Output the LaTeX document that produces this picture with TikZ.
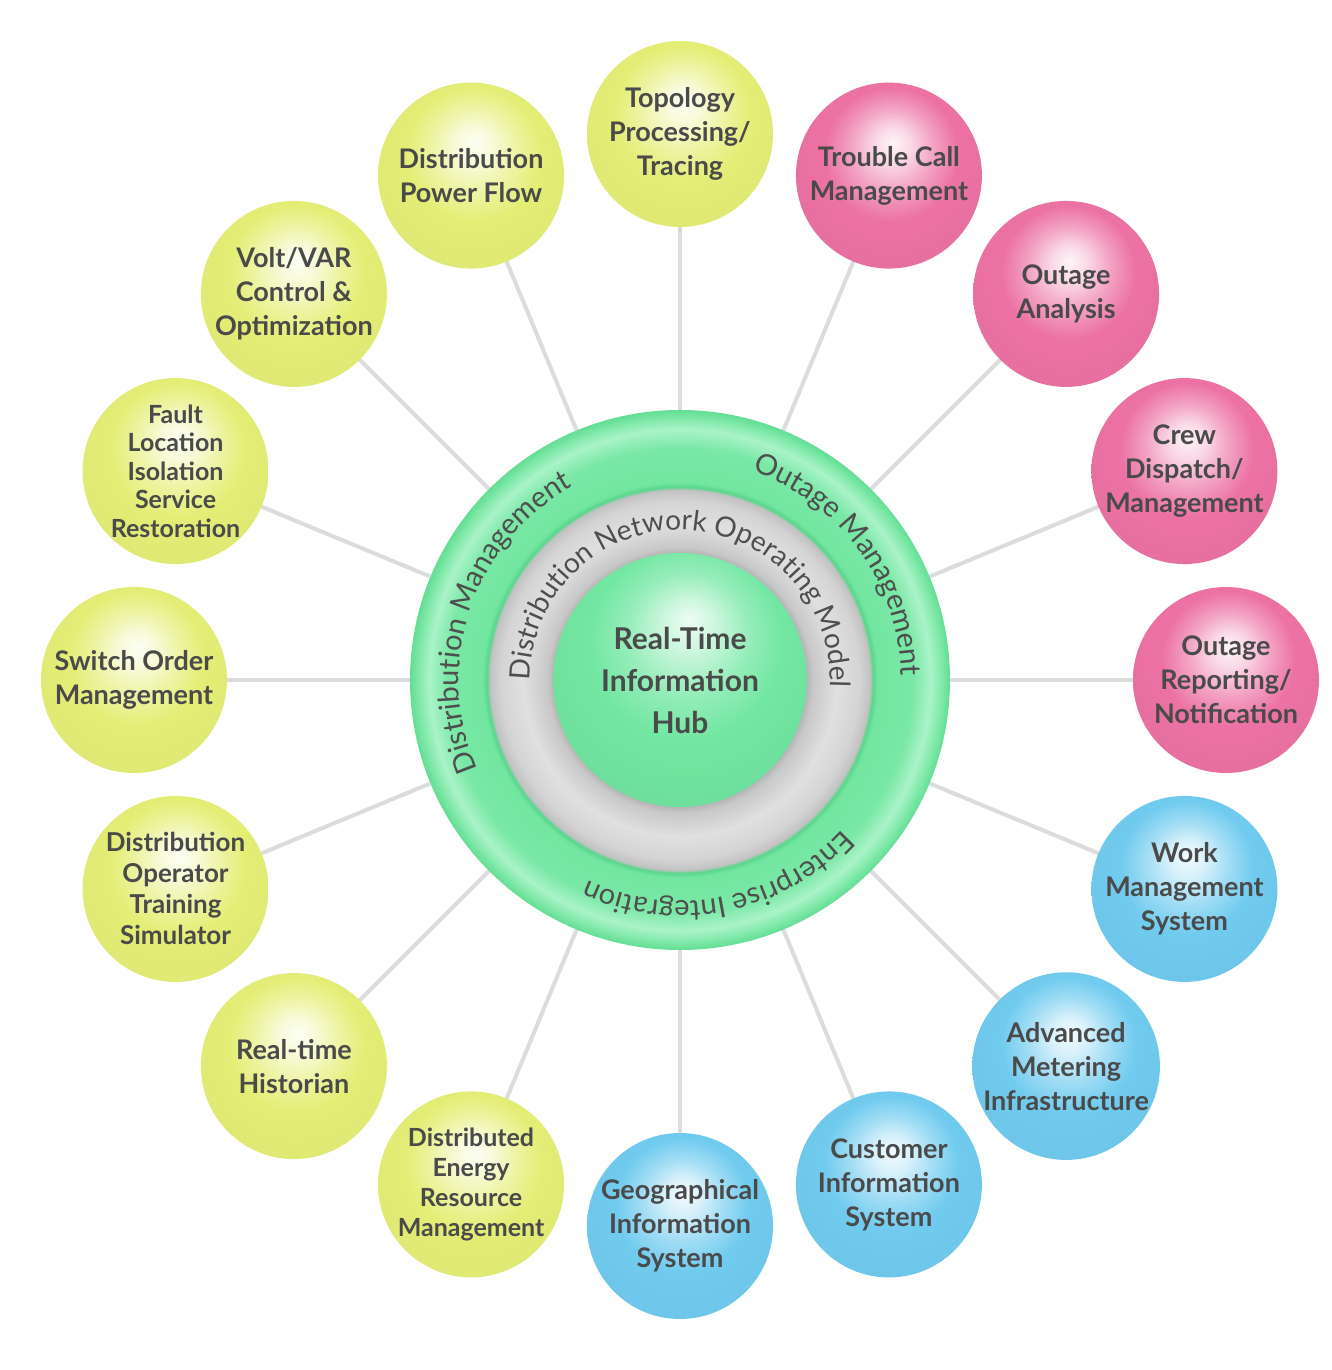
\documentclass[tikz,border=0pt]{standalone}
\usepackage{fontspec}
\setmainfont{Lato}
\usetikzlibrary{decorations.text,backgrounds}
\definecolor{ylw}{HTML}{E4EE76}
\definecolor{pnk}{HTML}{EC72A3}
\definecolor{blu}{HTML}{70CBEF}
\definecolor{hubg}{HTML}{72E7A2}
\definecolor{labtxt}{HTML}{4A4A4A}
\definecolor{ringtxt}{HTML}{4E4E4E}
\definecolor{conncol}{HTML}{DCDCDC}
\definecolor{gA}{HTML}{B4B4B4}
\definecolor{gB}{HTML}{C8C8C8}
\definecolor{gC}{HTML}{E0E0E0}
\definecolor{gD}{HTML}{D4D4D4}
\definecolor{gE}{HTML}{C2C2C2}
\definecolor{grA}{HTML}{58D68B}
\definecolor{grB}{HTML}{72E6A1}
\definecolor{grC}{HTML}{7AE8A6}
\definecolor{grD}{HTML}{AAF3C8}
\definecolor{grE}{HTML}{82E9AB}
\definecolor{grF}{HTML}{62DE93}
\newcommand\mkball[2]{\pgfdeclareradialshading{#1}{\pgfpoint{1bp}{9bp}}{color(0bp)=(#2!8!white); color(5bp)=(#2!28!white); color(11bp)=(#2!65!white); color(18bp)=(#2); color(32bp)=(#2!97!black); color(50bp)=(#2!95!black)}}
\mkball{ballY}{ylw}
\mkball{ballP}{pnk}
\mkball{ballB}{blu}
\pgfdeclareradialshading{hubsh}{\pgfpoint{2bp}{12bp}}{color(0bp)=(hubg!12!white); color(5bp)=(hubg!35!white); color(12bp)=(hubg!75!white); color(19bp)=(hubg); color(34bp)=(hubg!95!black); color(50bp)=(hubg!93!black)}
\pgfdeclareradialshading{ringsh}{\pgfpoint{0bp}{0bp}}{color(0bp)=(gA); color(11.7bp)=(gA); color(12.3bp)=(gB); color(14.5bp)=(gC); color(16.6bp)=(gD); color(17.6bp)=(gE); color(17.87bp)=(grA); color(18.3bp)=(grB); color(21.5bp)=(grC); color(23.2bp)=(grD); color(24.2bp)=(grE); color(25bp)=(grF); color(50bp)=(grF)}
\newcommand\ringfont{\fontsize{29}{29}\selectfont}
\newcommand\ringfontin{\fontsize{28}{28}\selectfont}
\tikzset{
  sat/.style={circle, minimum size=186pt, inner sep=0pt, align=center, text=labtxt, shade,
    font=\bfseries\fontsize{27}{34}\selectfont},
  satY/.style={sat, shading=ballY},
  satP/.style={sat, shading=ballP},
  satB/.style={sat, shading=ballB},
  conn/.style={draw=conncol, line width=4pt},
  ringtext/.style={decorate, decoration={text along path, text={|\ringfont|#1}, text align=center, text color=ringtxt}},
  ringtextin/.style={decorate, decoration={text along path, text={|\ringfontin|#1}, text align=center, text color=ringtxt}}
}
\begin{document}
\begin{tikzpicture}
\useasboundingbox (-680pt,-690pt) rectangle (652pt,680pt);
\begin{scope}[on background layer]
\fill[white] (-680pt,-690pt) rectangle (652pt,680pt);
\end{scope}
% hub rings
\node[circle, minimum size=540pt, inner sep=0pt, shade, shading=ringsh] (hub) at (0,0) {};
\node[circle, minimum size=254pt, inner sep=0pt, shade, shading=hubsh, align=center, text=labtxt,
  font=\bfseries\fontsize{30}{42}\selectfont] (core) at (0,0) {Real-Time\\Information\\Hub};
% ring texts
\path[ringtext={Distribution Management}] (221.4:221pt) arc[start angle=221.4, end angle=101.4, radius=221pt];
\path[ringtext={Outage Management}] (96:221pt) arc[start angle=96, end angle=-24, radius=221pt];
\path[ringtext={Enterprise Integration}] (-18.75:221pt) arc[start angle=-18.75, end angle=-138.75, radius=221pt];
\path[ringtextin={Distribution Network Operating Model}] (208.75:150pt) arc[start angle=208.75, end angle=-31.25, radius=150pt];
% satellites
\node[satY] (s1) at (90:546pt) {Topology\\Processing/\\Tracing};
\node[satP] (s2) at (67.5:546pt) {Trouble Call\\Management};
\node[satP] (s3) at (45:546pt) {Outage\\Analysis};
\node[satP] (s4) at (22.5:546pt) {Crew\\Dispatch/\\Management};
\node[satP] (s5) at (0:546pt) {Outage\\Reporting/\\Notification};
\node[satB] (s6) at (-22.5:546pt) {Work\\Management\\System};
\node[satB] (s7) at (-45:546pt) {Advanced\\Metering\\Infrastructure};
\node[satB] (s8) at (-67.5:546pt) {Customer\\Information\\System};
\node[satB] (s9) at (-90:546pt) {Geographical\\Information\\System};
\node[satY, font=\bfseries\fontsize{25}{30}\selectfont] (s10) at (-112.5:546pt) {Distributed\\Energy\\Resource\\Management};
\node[satY] (s11) at (-135:546pt) {Real-time\\Historian};
\node[satY, font=\bfseries\fontsize{26}{31}\selectfont] (s12) at (-157.5:546pt) {Distribution\\Operator\\Training\\Simulator};
\node[satY] (s13) at (180:546pt) {Switch Order\\Management};
\node[satY, font=\bfseries\fontsize{25}{28.5}\selectfont] (s14) at (157.5:546pt) {Fault\\Location\\Isolation\\Service\\Restoration};
\node[satY] (s15) at (135:546pt) {Volt/VAR\\Control \&\\Optimization};
\node[satY] (s16) at (112.5:546pt) {Distribution\\Power Flow};
% connectors
\begin{scope}[on background layer]
\foreach \i in {1,...,16} {\draw[conn] (hub.center) -- (s\i.center);}
\end{scope}
\end{tikzpicture}
\end{document}
